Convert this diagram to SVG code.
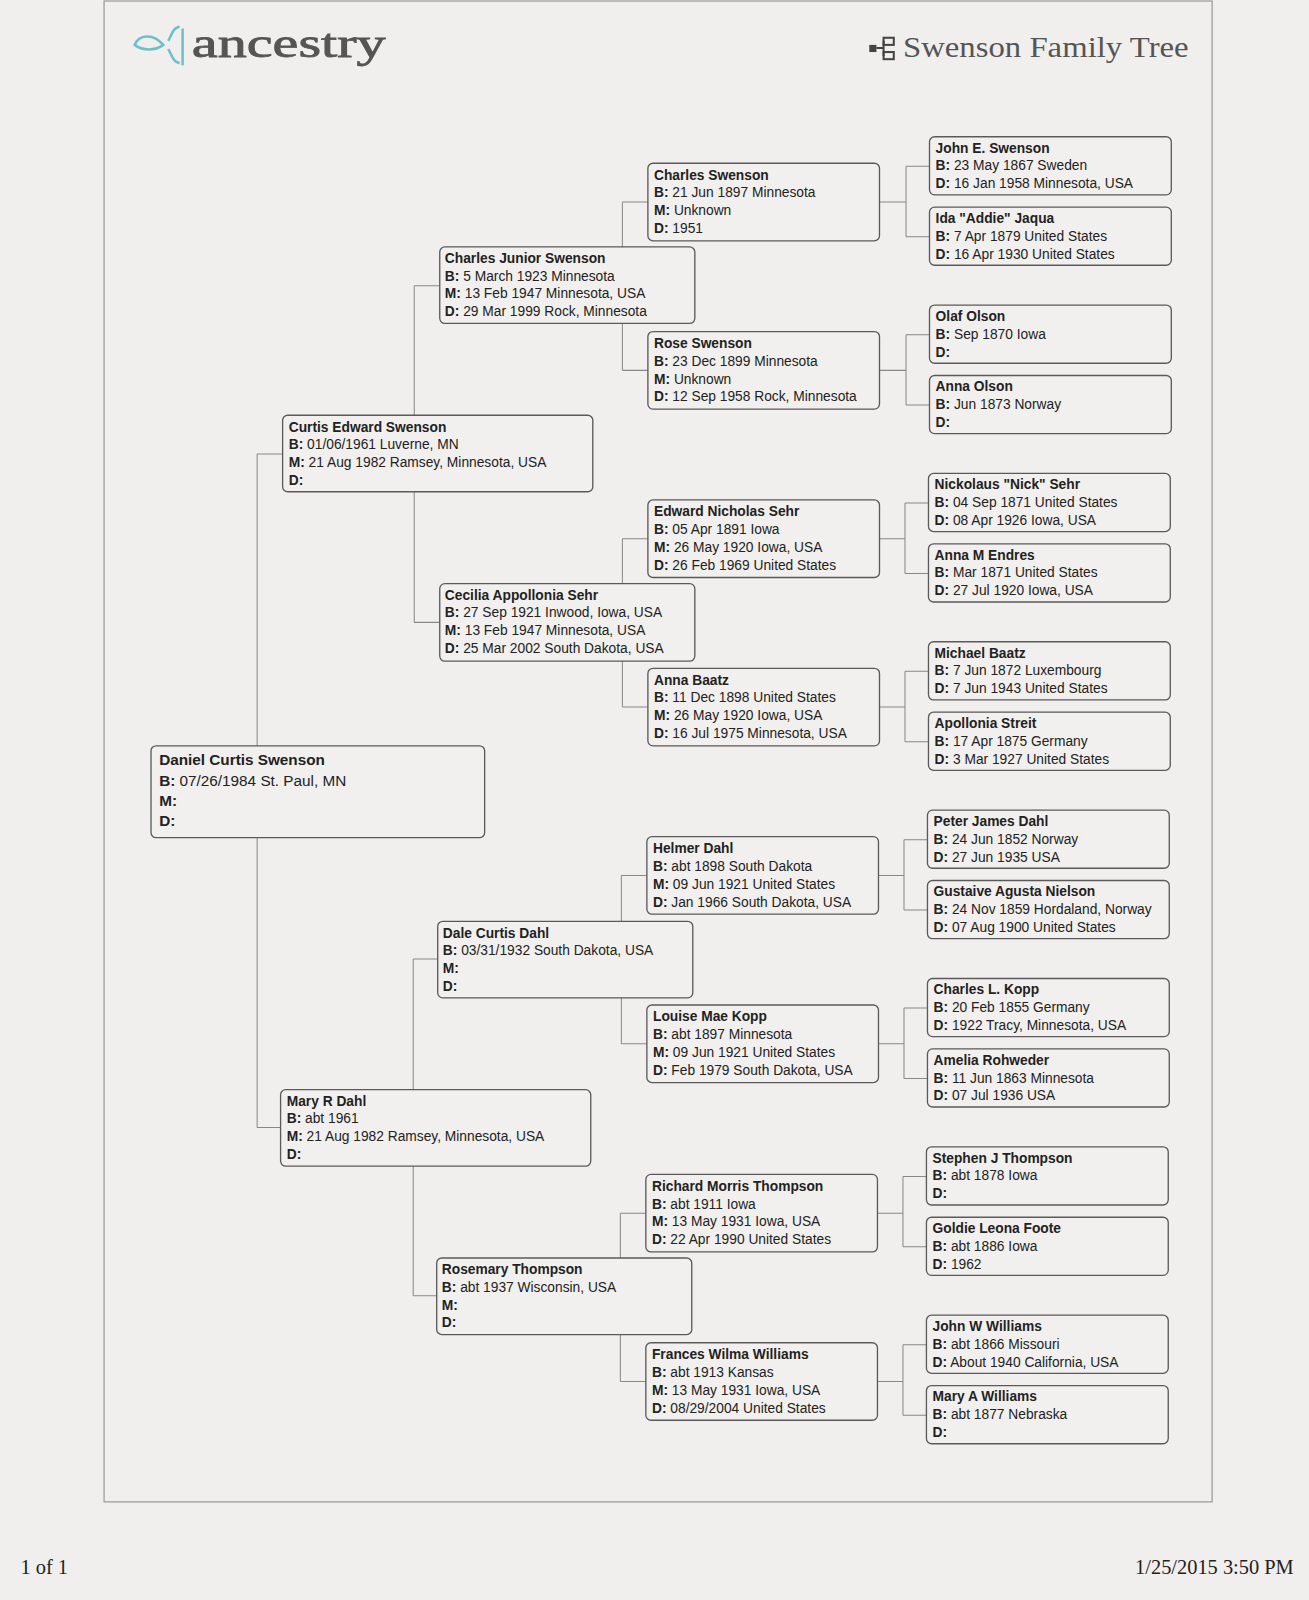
<svg xmlns="http://www.w3.org/2000/svg" width="1309" height="1600" viewBox="0 0 1309 1600">
<style>
.bx{fill:#f1f0ee;stroke:#5a5a5a;stroke-width:1.3}
text{font-family:"Liberation Sans",Arial,sans-serif;font-size:13.5px;fill:#222}
.n{font-weight:bold}
.l{font-weight:bold}
.c{fill:none;stroke:#888;stroke-width:1}
.big{font-size:15px}
</style>
<rect width="1309" height="1600" fill="#f0efed"/>
<g transform="scale(1.0203)">
<rect x="102" y="1" width="1086" height="1471" fill="none" stroke="#999" stroke-width="1.2"/>
<g id="logo">
<path d="M160 44 C150 32 136 34 132 44 C140 50 152 50 160 44 Z M165 40 C170 30 170 28 176 26 M165 48 C170 58 170 60 176 62" fill="none" stroke="#6bc0cc" stroke-width="2.5"/>
<line x1="179" y1="28" x2="179" y2="64" stroke="#6bc0cc" stroke-width="2.5"/>
<text x="188" y="56" textLength="190" lengthAdjust="spacingAndGlyphs" style="font-family:'Liberation Serif',serif;font-size:40px;fill:#555;stroke:#555;stroke-width:0.8">ancestry</text>
</g>
<g id="title">
<rect x="852" y="44" width="7" height="7" fill="#444"/>
<path d="M859 47 H866 M866 40 V55" stroke="#444" stroke-width="2" fill="none"/>
<rect x="866" y="37" width="10" height="7" fill="none" stroke="#444" stroke-width="2"/>
<rect x="866" y="51" width="10" height="7" fill="none" stroke="#444" stroke-width="2"/>
<text x="885" y="56" textLength="280" lengthAdjust="spacingAndGlyphs" style="font-family:'Liberation Serif',serif;font-size:29px;fill:#555">Swenson Family Tree</text>
</g>
<g id="connectors" class="c">
<path class="c" d="M252 445 V1105 M252 445 H277 M252 1105 H275"/>
<path class="c" d="M406 280 V610 M406 280 H431 M406 610 H431 M405 940 V1270 M405 940 H429 M405 1270 H428"/>
<path class="c" d="M610 198 V363 M610 198 H635 M610 363 H635 M610 528 V693 M610 528 H635 M610 693 H635 M609 858 V1023 M609 858 H634 M609 1023 H634 M608 1189 V1354 M608 1189 H633 M608 1354 H633"/>
<path class="c" d="M862 198 H888 M888 163 V232 M888 163 H911 M888 232 H911
M862 363 H888 M888 328 V397 M888 328 H911 M888 397 H911
M862 528 H887 M887 493 V562 M887 493 H910 M887 562 H910
M862 693 H887 M887 658 V727 M887 658 H910 M887 727 H910
M861 858 H886 M886 823 V892 M886 823 H909 M886 892 H909
M861 1023 H886 M886 988 V1057 M886 988 H909 M886 1057 H909
M860 1189 H885 M885 1153 V1222 M885 1153 H908 M885 1222 H908
M860 1354 H885 M885 1318 V1387 M885 1318 H908 M885 1387 H908"/>
</g>
<g id="p0" transform="translate(148,731)"><rect class="bx" width="327" height="90" rx="5"/><text class="big n" x="8" y="19">Daniel Curtis Swenson</text><text class="big" x="8" y="39"><tspan class="l">B:</tspan> 07/26/1984 St. Paul, MN</text><text class="big l" x="8" y="59">M:</text><text class="big l" x="8" y="79">D:</text></g>
<g id="p1" transform="translate(277,407)"><rect class="bx" width="304" height="75" rx="5"/><text class="n" x="6" y="16">Curtis Edward Swenson</text><text x="6" y="33"><tspan class="l">B:</tspan> 01/06/1961 Luverne, MN</text><text x="6" y="50.5"><tspan class="l">M:</tspan> 21 Aug 1982 Ramsey, Minnesota, USA</text><text class="l" x="6" y="68">D:</text></g>
<g id="p2" transform="translate(275,1068)"><rect class="bx" width="304" height="75" rx="5"/><text class="n" x="6" y="16">Mary R Dahl</text><text x="6" y="33"><tspan class="l">B:</tspan> abt 1961</text><text x="6" y="50.5"><tspan class="l">M:</tspan> 21 Aug 1982 Ramsey, Minnesota, USA</text><text class="l" x="6" y="68">D:</text></g>
<g id="p3" transform="translate(431,242)"><rect class="bx" width="250" height="75" rx="5"/><text class="n" x="5" y="16">Charles Junior Swenson</text><text x="5" y="33"><tspan class="l">B:</tspan> 5 March 1923 Minnesota</text><text x="5" y="50.5"><tspan class="l">M:</tspan> 13 Feb 1947 Minnesota, USA</text><text x="5" y="68"><tspan class="l">D:</tspan> 29 Mar 1999 Rock, Minnesota</text></g>
<g id="p4" transform="translate(431,572)"><rect class="bx" width="250" height="76" rx="5"/><text class="n" x="5" y="16">Cecilia Appollonia Sehr</text><text x="5" y="33"><tspan class="l">B:</tspan> 27 Sep 1921 Inwood, Iowa, USA</text><text x="5" y="50.5"><tspan class="l">M:</tspan> 13 Feb 1947 Minnesota, USA</text><text x="5" y="68"><tspan class="l">D:</tspan> 25 Mar 2002 South Dakota, USA</text></g>
<g id="p5" transform="translate(429,903)"><rect class="bx" width="250" height="75" rx="5"/><text class="n" x="5" y="16">Dale Curtis Dahl</text><text x="5" y="33"><tspan class="l">B:</tspan> 03/31/1932 South Dakota, USA</text><text class="l" x="5" y="50.5">M:</text><text class="l" x="5" y="68">D:</text></g>
<g id="p6" transform="translate(428,1233)"><rect class="bx" width="250" height="75" rx="5"/><text class="n" x="5" y="16">Rosemary Thompson</text><text x="5" y="33"><tspan class="l">B:</tspan> abt 1937 Wisconsin, USA</text><text class="l" x="5" y="50.5">M:</text><text class="l" x="5" y="68">D:</text></g>
<g id="p7" transform="translate(635,160)"><rect class="bx" width="227" height="76" rx="5"/><text class="n" x="6" y="16">Charles Swenson</text><text x="6" y="33.5"><tspan class="l">B:</tspan> 21 Jun 1897 Minnesota</text><text x="6" y="51"><tspan class="l">M:</tspan> Unknown</text><text x="6" y="68.5"><tspan class="l">D:</tspan> 1951</text></g>
<g id="p8" transform="translate(635,325)"><rect class="bx" width="227" height="76" rx="5"/><text class="n" x="6" y="16">Rose Swenson</text><text x="6" y="33.5"><tspan class="l">B:</tspan> 23 Dec 1899 Minnesota</text><text x="6" y="51"><tspan class="l">M:</tspan> Unknown</text><text x="6" y="68.5"><tspan class="l">D:</tspan> 12 Sep 1958 Rock, Minnesota</text></g>
<g id="p9" transform="translate(635,490)"><rect class="bx" width="227" height="76" rx="5"/><text class="n" x="6" y="16">Edward Nicholas Sehr</text><text x="6" y="33.5"><tspan class="l">B:</tspan> 05 Apr 1891 Iowa</text><text x="6" y="51"><tspan class="l">M:</tspan> 26 May 1920 Iowa, USA</text><text x="6" y="68.5"><tspan class="l">D:</tspan> 26 Feb 1969 United States</text></g>
<g id="p10" transform="translate(635,655)"><rect class="bx" width="227" height="76" rx="5"/><text class="n" x="6" y="16">Anna Baatz</text><text x="6" y="33.5"><tspan class="l">B:</tspan> 11 Dec 1898 United States</text><text x="6" y="51"><tspan class="l">M:</tspan> 26 May 1920 Iowa, USA</text><text x="6" y="68.5"><tspan class="l">D:</tspan> 16 Jul 1975 Minnesota, USA</text></g>
<g id="p11" transform="translate(634,820)"><rect class="bx" width="227" height="76" rx="5"/><text class="n" x="6" y="16">Helmer Dahl</text><text x="6" y="33.5"><tspan class="l">B:</tspan> abt 1898 South Dakota</text><text x="6" y="51"><tspan class="l">M:</tspan> 09 Jun 1921 United States</text><text x="6" y="68.5"><tspan class="l">D:</tspan> Jan 1966 South Dakota, USA</text></g>
<g id="p12" transform="translate(634,985)"><rect class="bx" width="227" height="76" rx="5"/><text class="n" x="6" y="16">Louise Mae Kopp</text><text x="6" y="33.5"><tspan class="l">B:</tspan> abt 1897 Minnesota</text><text x="6" y="51"><tspan class="l">M:</tspan> 09 Jun 1921 United States</text><text x="6" y="68.5"><tspan class="l">D:</tspan> Feb 1979 South Dakota, USA</text></g>
<g id="p13" transform="translate(633,1151)"><rect class="bx" width="227" height="76" rx="5"/><text class="n" x="6" y="16">Richard Morris Thompson</text><text x="6" y="33.5"><tspan class="l">B:</tspan> abt 1911 Iowa</text><text x="6" y="51"><tspan class="l">M:</tspan> 13 May 1931 Iowa, USA</text><text x="6" y="68.5"><tspan class="l">D:</tspan> 22 Apr 1990 United States</text></g>
<g id="p14" transform="translate(633,1316)"><rect class="bx" width="227" height="76" rx="5"/><text class="n" x="6" y="16">Frances Wilma Williams</text><text x="6" y="33.5"><tspan class="l">B:</tspan> abt 1913 Kansas</text><text x="6" y="51"><tspan class="l">M:</tspan> 13 May 1931 Iowa, USA</text><text x="6" y="68.5"><tspan class="l">D:</tspan> 08/29/2004 United States</text></g>
<g id="p15" transform="translate(911,134)"><rect class="bx" width="237" height="57" rx="5"/><text class="n" x="6" y="15.5">John E. Swenson</text><text x="6" y="33"><tspan class="l">B:</tspan> 23 May 1867 Sweden</text><text x="6" y="50.5"><tspan class="l">D:</tspan> 16 Jan 1958 Minnesota, USA</text></g>
<g id="p16" transform="translate(911,203)"><rect class="bx" width="237" height="57" rx="5"/><text class="n" x="6" y="15.5">Ida "Addie" Jaqua</text><text x="6" y="33"><tspan class="l">B:</tspan> 7 Apr 1879 United States</text><text x="6" y="50.5"><tspan class="l">D:</tspan> 16 Apr 1930 United States</text></g>
<g id="p17" transform="translate(911,299)"><rect class="bx" width="237" height="57" rx="5"/><text class="n" x="6" y="15.5">Olaf Olson</text><text x="6" y="33"><tspan class="l">B:</tspan> Sep 1870 Iowa</text><text class="l" x="6" y="50.5">D:</text></g>
<g id="p18" transform="translate(911,368)"><rect class="bx" width="237" height="57" rx="5"/><text class="n" x="6" y="15.5">Anna Olson</text><text x="6" y="33"><tspan class="l">B:</tspan> Jun 1873 Norway</text><text class="l" x="6" y="50.5">D:</text></g>
<g id="p19" transform="translate(910,464)"><rect class="bx" width="237" height="57" rx="5"/><text class="n" x="6" y="15.5">Nickolaus "Nick" Sehr</text><text x="6" y="33"><tspan class="l">B:</tspan> 04 Sep 1871 United States</text><text x="6" y="50.5"><tspan class="l">D:</tspan> 08 Apr 1926 Iowa, USA</text></g>
<g id="p20" transform="translate(910,533)"><rect class="bx" width="237" height="57" rx="5"/><text class="n" x="6" y="15.5">Anna M Endres</text><text x="6" y="33"><tspan class="l">B:</tspan> Mar 1871 United States</text><text x="6" y="50.5"><tspan class="l">D:</tspan> 27 Jul 1920 Iowa, USA</text></g>
<g id="p21" transform="translate(910,629)"><rect class="bx" width="237" height="57" rx="5"/><text class="n" x="6" y="15.5">Michael Baatz</text><text x="6" y="33"><tspan class="l">B:</tspan> 7 Jun 1872 Luxembourg</text><text x="6" y="50.5"><tspan class="l">D:</tspan> 7 Jun 1943 United States</text></g>
<g id="p22" transform="translate(910,698)"><rect class="bx" width="237" height="57" rx="5"/><text class="n" x="6" y="15.5">Apollonia Streit</text><text x="6" y="33"><tspan class="l">B:</tspan> 17 Apr 1875 Germany</text><text x="6" y="50.5"><tspan class="l">D:</tspan> 3 Mar 1927 United States</text></g>
<g id="p23" transform="translate(909,794)"><rect class="bx" width="237" height="57" rx="5"/><text class="n" x="6" y="15.5">Peter James Dahl</text><text x="6" y="33"><tspan class="l">B:</tspan> 24 Jun 1852 Norway</text><text x="6" y="50.5"><tspan class="l">D:</tspan> 27 Jun 1935 USA</text></g>
<g id="p24" transform="translate(909,863)"><rect class="bx" width="237" height="57" rx="5"/><text class="n" x="6" y="15.5">Gustaive Agusta Nielson</text><text x="6" y="33"><tspan class="l">B:</tspan> 24 Nov 1859 Hordaland, Norway</text><text x="6" y="50.5"><tspan class="l">D:</tspan> 07 Aug 1900 United States</text></g>
<g id="p25" transform="translate(909,959)"><rect class="bx" width="237" height="57" rx="5"/><text class="n" x="6" y="15.5">Charles L. Kopp</text><text x="6" y="33"><tspan class="l">B:</tspan> 20 Feb 1855 Germany</text><text x="6" y="50.5"><tspan class="l">D:</tspan> 1922 Tracy, Minnesota, USA</text></g>
<g id="p26" transform="translate(909,1028)"><rect class="bx" width="237" height="57" rx="5"/><text class="n" x="6" y="15.5">Amelia Rohweder</text><text x="6" y="33"><tspan class="l">B:</tspan> 11 Jun 1863 Minnesota</text><text x="6" y="50.5"><tspan class="l">D:</tspan> 07 Jul 1936 USA</text></g>
<g id="p27" transform="translate(908,1124)"><rect class="bx" width="237" height="57" rx="5"/><text class="n" x="6" y="15.5">Stephen J Thompson</text><text x="6" y="33"><tspan class="l">B:</tspan> abt 1878 Iowa</text><text class="l" x="6" y="50.5">D:</text></g>
<g id="p28" transform="translate(908,1193)"><rect class="bx" width="237" height="57" rx="5"/><text class="n" x="6" y="15.5">Goldie Leona Foote</text><text x="6" y="33"><tspan class="l">B:</tspan> abt 1886 Iowa</text><text x="6" y="50.5"><tspan class="l">D:</tspan> 1962</text></g>
<g id="p29" transform="translate(908,1289)"><rect class="bx" width="237" height="57" rx="5"/><text class="n" x="6" y="15.5">John W Williams</text><text x="6" y="33"><tspan class="l">B:</tspan> abt 1866 Missouri</text><text x="6" y="50.5"><tspan class="l">D:</tspan> About 1940 California, USA</text></g>
<g id="p30" transform="translate(908,1358)"><rect class="bx" width="237" height="57" rx="5"/><text class="n" x="6" y="15.5">Mary A Williams</text><text x="6" y="33"><tspan class="l">B:</tspan> abt 1877 Nebraska</text><text class="l" x="6" y="50.5">D:</text></g>
<text x="20" y="1543" style="font-family:'Liberation Serif',serif;font-size:20px;fill:#222">1 of 1</text>
<text x="1268" y="1543" text-anchor="end" style="font-family:'Liberation Serif',serif;font-size:20px;fill:#222">1/25/2015 3:50 PM</text>
</g>
</svg>
